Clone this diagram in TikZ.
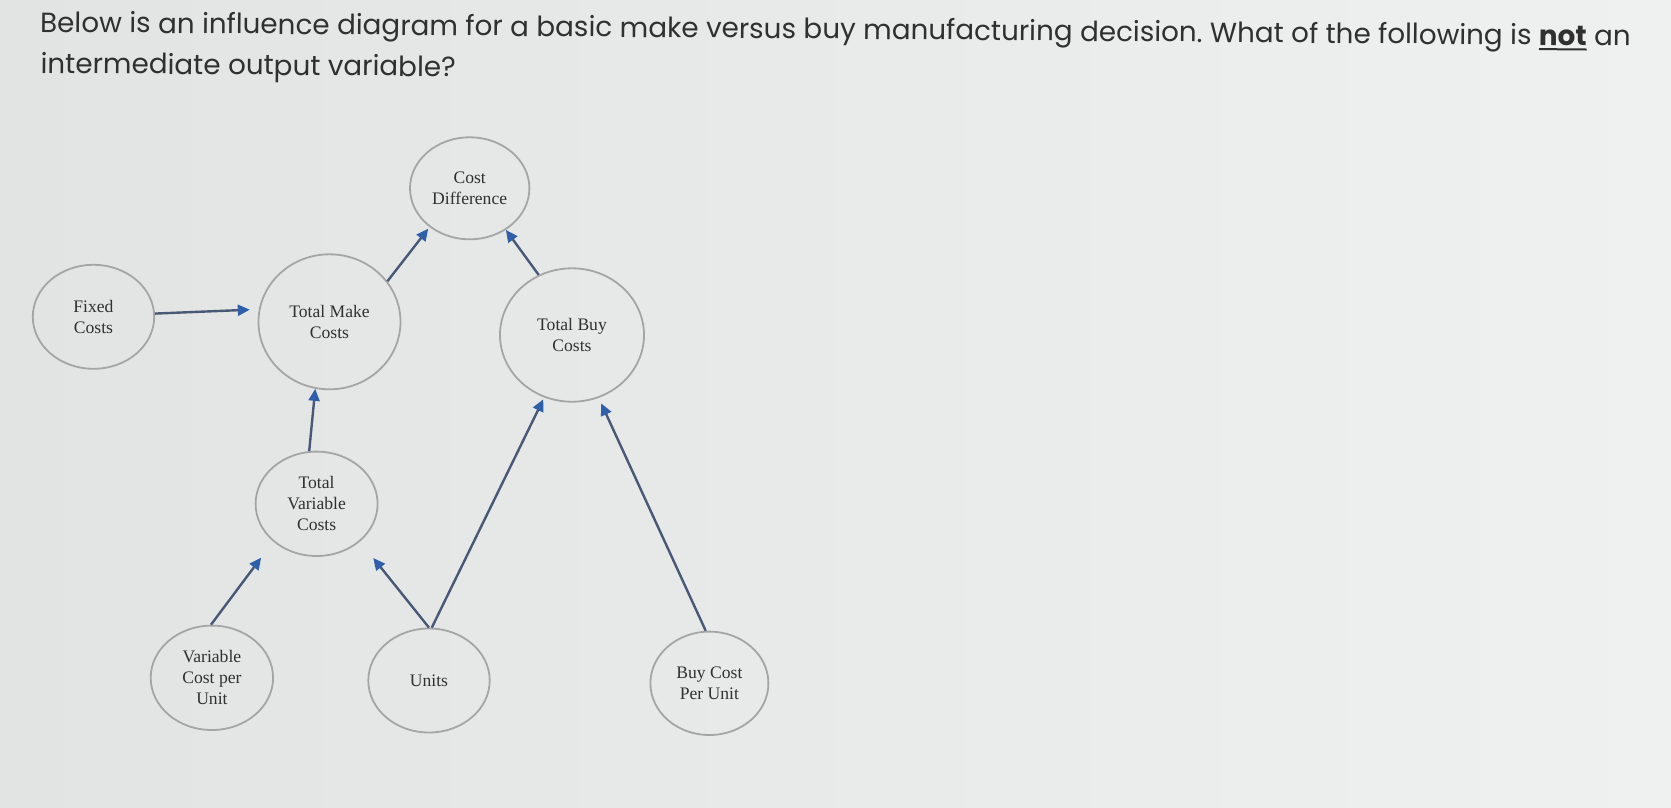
\documentclass[tikz,border=0pt]{standalone}
\usepackage{fontspec}
\setmainfont{Liberation Serif}
\newfontfamily\titlefont{Poppins}
\usetikzlibrary{arrows.meta}
\usetikzlibrary{shapes.geometric}

\definecolor{screenL}{RGB}{226,228,227}
\definecolor{screenR}{RGB}{239,240,240}
\definecolor{ringgray}{RGB}{165,165,165}
\definecolor{linkblue}{RGB}{72,88,118}
\definecolor{tipblue}{RGB}{48,95,170}
\definecolor{inkgray}{RGB}{48,48,48}

\newsavebox{\ulbox}
\newcommand{\ulword}[1]{\sbox{\ulbox}{#1}\rlap{\rule[-5pt]{\wd\ulbox}{2pt}}\usebox{\ulbox}}

\begin{document}
\begin{tikzpicture}[
    x=1pt, y=-1pt,
    % Variable of the model (grey ring)
    VarNode/.style 2 args={
        ellipse, draw=ringgray, line width=1.8pt,
        minimum width=#1, minimum height=#2,
        inner sep=0pt, align=center, text=inkgray,
        font=\fontsize{17.6}{21}\selectfont
    },
    % Influence between variables (blue arrows)
    Influence/.style={
        draw=linkblue, line width=2.4pt,
        -{Triangle[length=12pt, width=11pt, color=tipblue]}
    },
    % Question text
    QText/.style={
        anchor=base west, inner sep=0pt, rotate=-0.5, text=inkgray,
        font=\titlefont\fontsize{27.8}{32}\selectfont\frenchspacing
    }
]

    % --- 1. SCREEN ---
    \shade[left color=screenL, right color=screenR] (0,0) rectangle (1671,807);
    \useasboundingbox (0,0) rectangle (1671,807);

    % --- 2. QUESTION ---
    \node[QText] (q1) at (40,32) {Below is an influence diagram for a basic make versus buy manufacturing decision. What of the following is \ulword{\textbf{not}} an};
    \node[QText] (q2) at (40.4,73) {intermediate output variable?};

    % --- 3. VARIABLES ---
    \node[VarNode={121.4pt}{104pt}]   (fixed) at (93.5,316.8)  {Fixed\\Costs};
    \node[VarNode={142pt}{135pt}]     (make)  at (329.5,321.8) {Total Make\\Costs};
    \node[VarNode={119.4pt}{102pt}]   (diff)  at (469.7,188.3) {Cost\\Difference};
    \node[VarNode={144pt}{133.4pt}]   (buy)   at (572,335)     {Total Buy\\Costs};
    \node[VarNode={122pt}{104.4pt}]   (tvc)   at (316.6,503.8) {Total\\Variable\\Costs};
    \node[VarNode={122.4pt}{104.4pt}] (vcu)   at (211.9,677.8) {Variable\\Cost per\\Unit};
    \node[VarNode={121.4pt}{104pt}]   (units) at (429,680.5)   {Units};
    \node[VarNode={118pt}{103.4pt}]   (bcu)   at (709.4,683.3) {Buy Cost\\Per Unit};

    % --- 4. INFLUENCES ---
    \draw[Influence, shorten >=9pt]  (fixed.3) -- (make.170);
    \draw[Influence, shorten >=2pt]  (make.35) -- (diff.224);
    \draw[Influence]                 (buy.119) -- (diff.311);
    \draw[Influence]                 (tvc.98) -- (make.258);
    \draw[Influence, shorten >=20pt] (vcu.91) -- (tvc.221);
    \draw[Influence, shorten >=21pt] (units.90) -- (tvc.319);
    \draw[Influence, shorten >=2pt]  (units.87) -- (buy.246);
    \draw[Influence, shorten >=6pt]  (bcu.94) -- (buy.293);

\end{tikzpicture}
\end{document}
